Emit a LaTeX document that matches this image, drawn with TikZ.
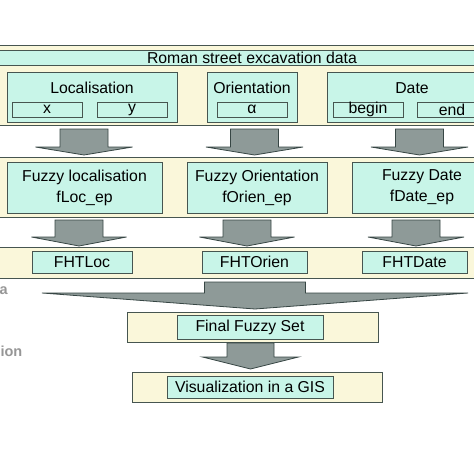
\documentclass[tikz,border=0pt]{standalone}
\usepackage{fontspec}
\setmainfont{Liberation Sans}
\usepackage{tikz}
\definecolor{beige}{RGB}{250,247,218}
\definecolor{aqua}{RGB}{200,245,232}
\definecolor{edgecol}{RGB}{70,85,80}
\definecolor{arrowfill}{RGB}{142,154,152}
\definecolor{arrowedge}{RGB}{55,70,68}
\definecolor{sidegray}{RGB}{150,150,150}
\tikzset{
  band/.style={draw=edgecol,fill=beige,line width=0.8pt},
  box/.style={draw=edgecol,fill=aqua,line width=0.8pt,inner sep=0pt},
  garrow/.style={draw=arrowedge,fill=arrowfill,line width=0.8pt,line join=miter},
  lbl/.style={inner sep=0pt,align=center,font=\fontsize{15.8}{21}\selectfont},
  side/.style={inner sep=0pt,anchor=east,text=sidegray,font=\bfseries\fontsize{14.5}{18}\selectfont}
}
% block arrow: centre x, top, shaft half width, head top, head half width, tip
\newcommand{\blockarrow}[6]{%
  \draw[garrow] ({#1-#3},#2) -- ({#1+#3},#2) -- ({#1+#3},#4) -- ({#1+#5},#4)
    -- (#1,#6) -- ({#1-#5},#4) -- ({#1-#3},#4) -- cycle;}

\begin{document}
\begin{tikzpicture}[x=1pt,y=-1pt]
  \useasboundingbox (0,0) rectangle (474,474);
  \clip (0,0) rectangle (474,474);
  % Bands
  \draw[band] (-5,45) rectangle (480,125);
  \draw[band] (-5,157) rectangle (480,217);
  \draw[band] (-5,247) rectangle (480,278);
  % Input data
  \node[box,minimum width=490,minimum height=15] (data) at (237,57.5) {};
  \node[lbl] (datatxt) at (252,57.5) {Roman street excavation data};
  \node[box,minimum width=170,minimum height=50] (loc) at (92,97) {};
  \node[lbl] (loctxt) at (92,88) {Localisation};
  \node[box,minimum width=70,minimum height=15,lbl] (x) at (47,109.5) {x};
  \node[box,minimum width=70,minimum height=15,lbl] (y) at (132,109.5) {y};
  \node[box,minimum width=90,minimum height=50] (ori) at (252,97) {};
  \node[lbl] (oritxt) at (252,88) {Orientation};
  \node[box,minimum width=70,minimum height=15,lbl] (alpha) at (252,109.5) {α};
  \node[box,minimum width=170,minimum height=50] (date) at (412,97) {};
  \node[lbl] (datetxt) at (412,88) {Date};
  \node[box,minimum width=70,minimum height=15,lbl] (begin) at (368,109.5) {begin};
  \node[box,minimum width=70,minimum height=15,lbl] (end) at (452,109.5) {end};
  % Arrows
  \blockarrow{84}{129}{24}{147}{48.5}{155}
  \blockarrow{254.5}{129}{24}{147}{48.5}{155}
  \blockarrow{419.5}{129}{24}{147}{48.5}{155}
  % Fuzzy sets
  \node[box,minimum width=155,minimum height=51,lbl] (floc) at (84.5,187.5) {Fuzzy localisation\\fLoc\_ep};
  \node[box,minimum width=140,minimum height=51,lbl] (fori) at (257,187.5) {Fuzzy Orientation\\fOrien\_ep};
  \node[box,minimum width=140,minimum height=51,lbl] (fdate) at (422,187.5) {Fuzzy Date\\fDate\_ep};
  % Arrows
  \blockarrow{79}{220}{24}{237}{47.5}{246}
  \blockarrow{247}{220}{24}{237}{47.5}{246}
  \blockarrow{416}{220}{24}{237}{48}{246}
  % FHT
  \node[box,minimum width=100,minimum height=22,lbl] (fhtloc) at (82,262) {FHTLoc};
  \node[box,minimum width=105,minimum height=22,lbl] (fhtori) at (254.5,262) {FHTOrien};
  \node[box,minimum width=105,minimum height=22,lbl] (fhtdate) at (414.5,262) {FHTDate};
  % Merge
  \blockarrow{255}{282}{50.5}{293}{213}{309}
  \node[band,minimum width=251,minimum height=30] (finalband) at (252.5,327) {};
  \node[box,minimum width=146,minimum height=24,lbl] (final) at (250,327) {Final Fuzzy Set};
  \blockarrow{250.5}{343}{23.5}{357}{48}{369}
  \node[band,minimum width=250,minimum height=30] (gisband) at (257,387) {};
  \node[box,minimum width=166,minimum height=22,lbl] (gis) at (250,387) {Visualization in a GIS};
  % Side labels
  \node[side] (sidea) at (8,291) {a};
  \node[side] (sideb) at (22.5,351) {ion};
\end{tikzpicture}
\end{document}
